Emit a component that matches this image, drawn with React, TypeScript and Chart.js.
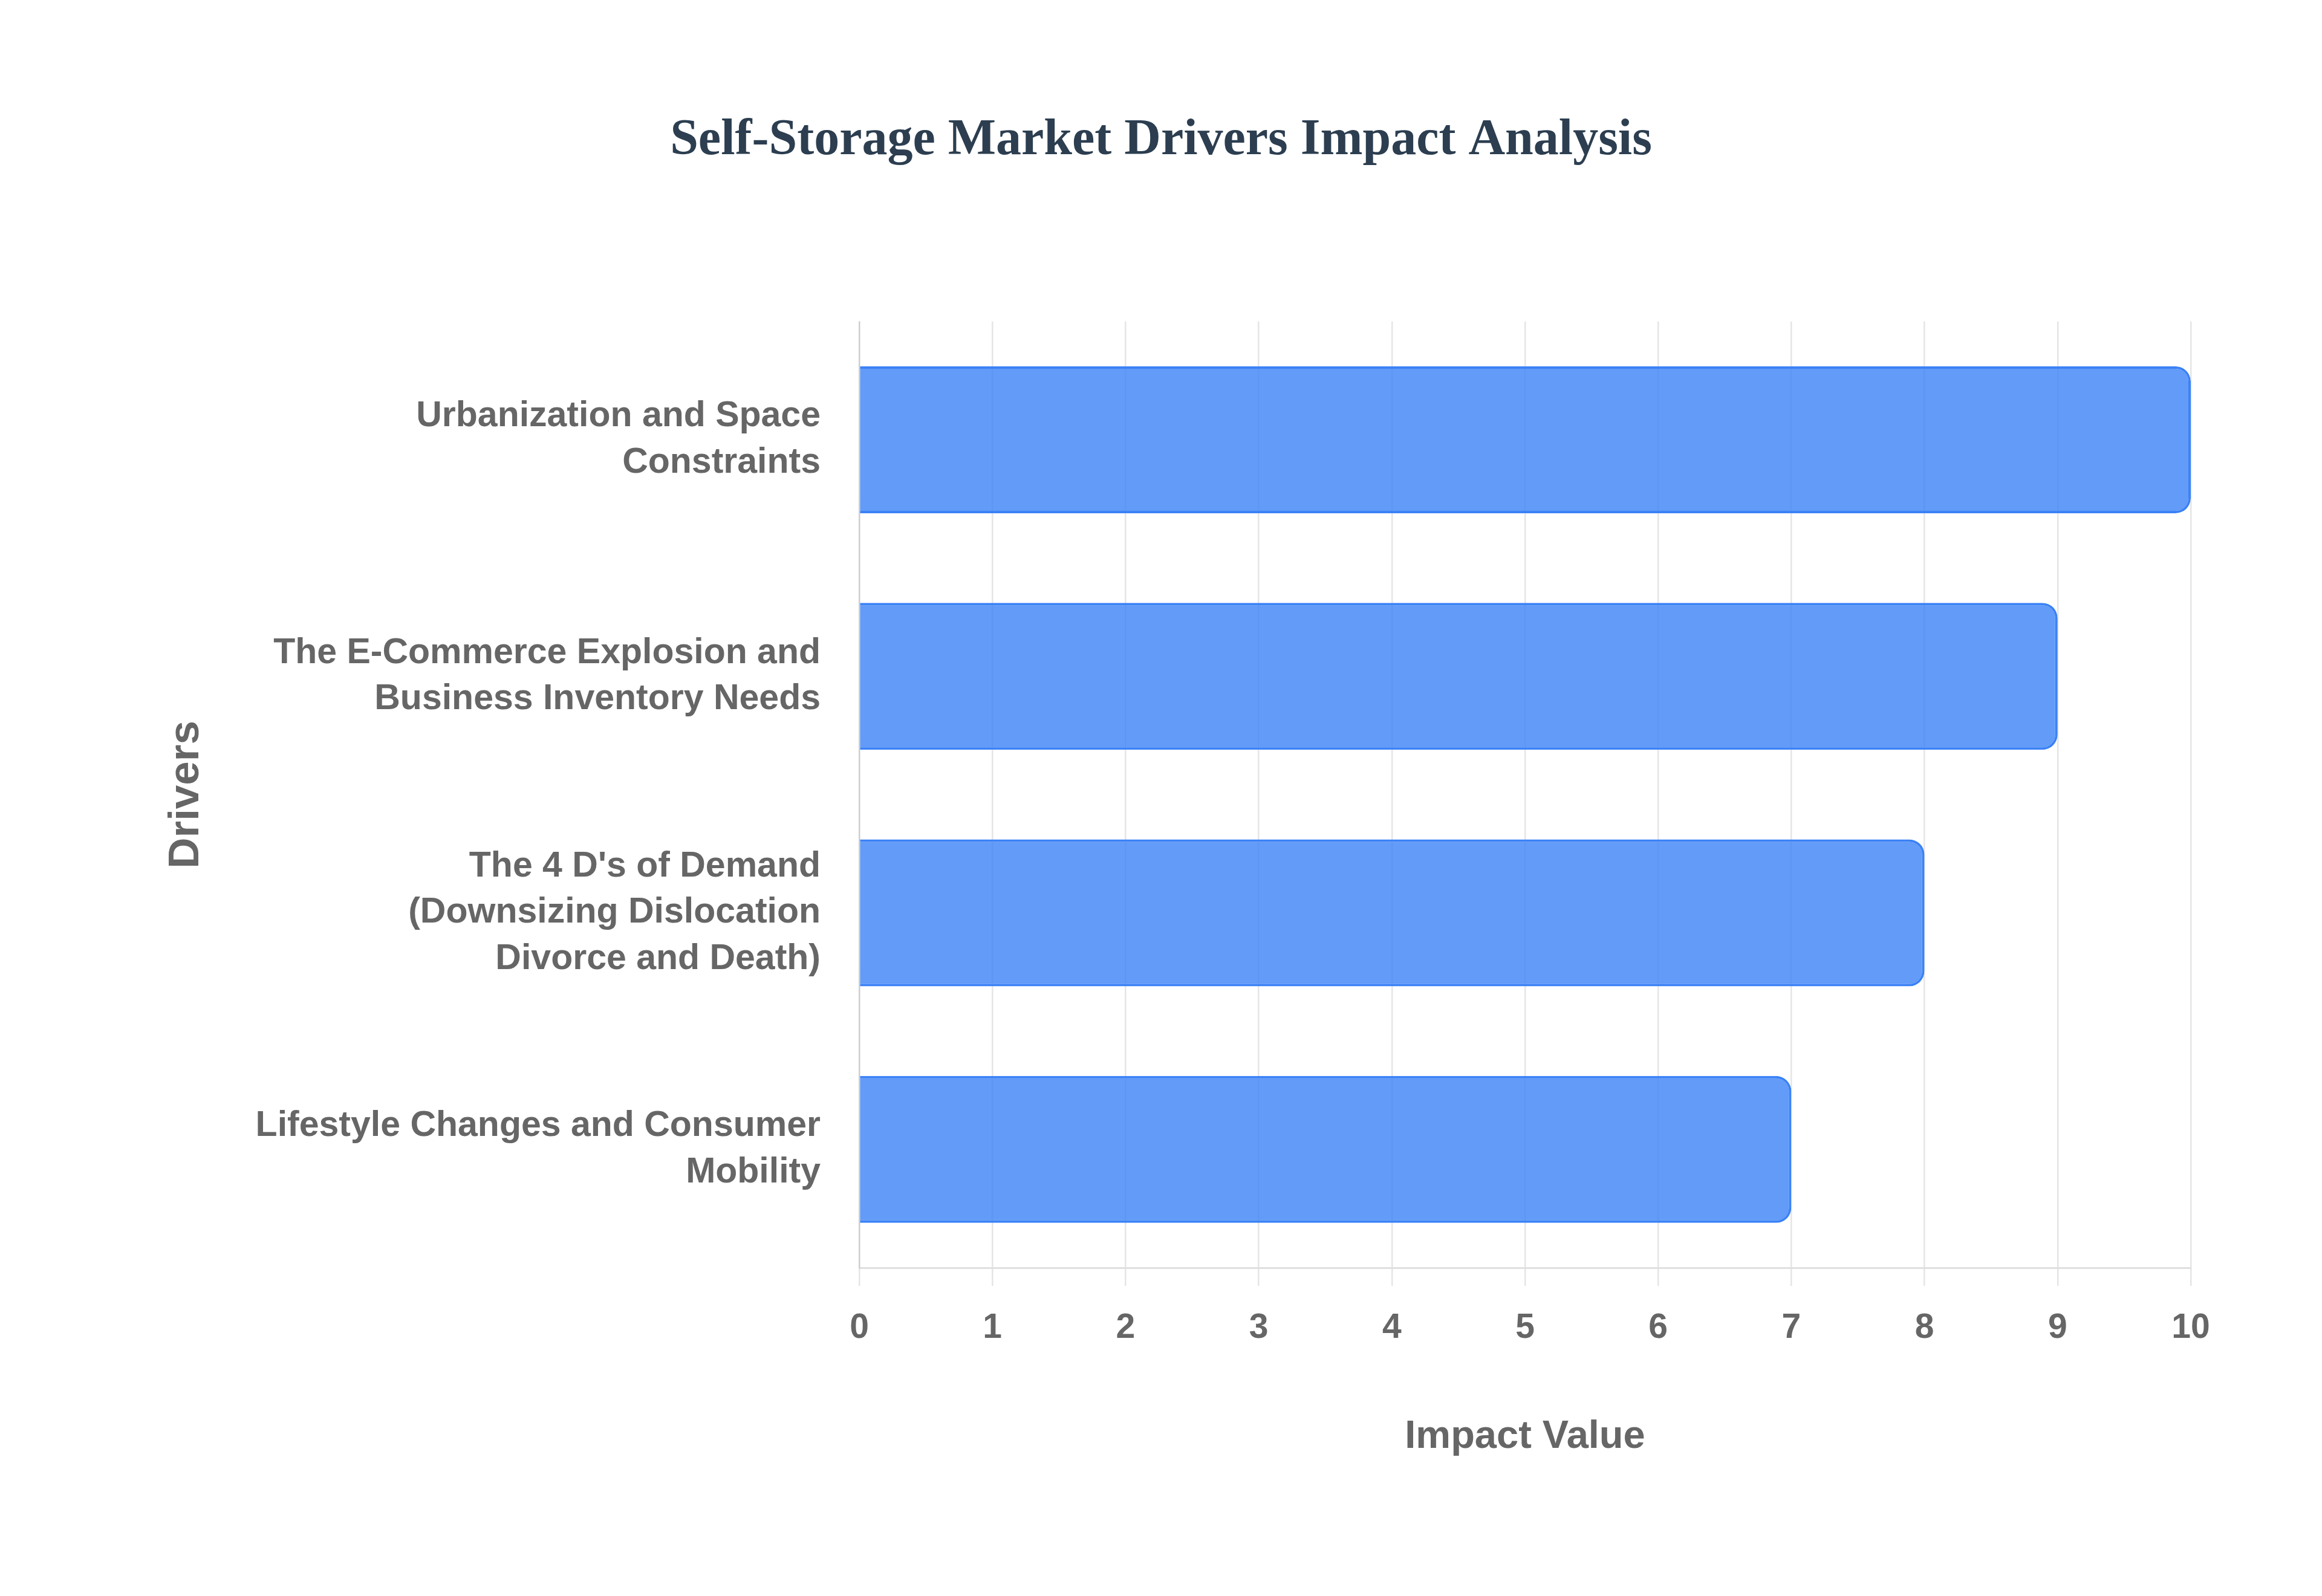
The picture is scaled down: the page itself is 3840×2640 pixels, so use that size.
import { useEffect, useRef } from 'react';
import Chart from 'chart.js/auto';

const drivers = [
  ['Urbanization and Space', 'Constraints'],
  ['The E-Commerce Explosion and', 'Business Inventory Needs'],
  ["The 4 D's of Demand", '(Downsizing Dislocation', 'Divorce and Death)'],
  ['Lifestyle Changes and Consumer', 'Mobility'],
];
const impactValues = [10, 9, 8, 7];
const xMin = 0;
const xMax = 10;
const xStep = 1;

const sans = "'Liberation Sans', Arial, Helvetica, sans-serif";

export default function App() {
  const chartRef = useRef<HTMLCanvasElement | null>(null);
  const chartInstance = useRef<Chart | null>(null);

  useEffect(() => {
    if (!chartRef.current) return;
    if (chartInstance.current) chartInstance.current.destroy();

    chartInstance.current = new Chart(chartRef.current, {
      type: 'bar',
      data: {
        labels: drivers,
        datasets: [{
          label: 'Impact Value',
          data: impactValues,
          backgroundColor: 'rgba(59, 130, 246, 0.8)',
          borderColor: '#3B82F6',
          borderWidth: 4,
          borderRadius: 25,
          categoryPercentage: 0.9,
          barPercentage: 0.69,
        }],
      },
      options: {
        indexAxis: 'y',
        animation: false,
        responsive: true,
        maintainAspectRatio: false,
        layout: { padding: { left: 217, right: 217, top: 0, bottom: 0 } },
        plugins: {
          legend: { display: false },
          tooltip: { enabled: false },
          title: {
            display: true,
            text: 'Self-Storage Market Drivers Impact Analysis',
            color: '#2c3e50',
            font: { family: "'Liberation Serif', 'Times New Roman', serif", size: 84, weight: 'bold', lineHeight: 1.2 },
            padding: { top: 183, bottom: 248 },
          },
        },
        scales: {
          x: {
            min: xMin,
            max: xMax,
            ticks: {
              stepSize: xStep,
              color: '#666',
              padding: 36,
              font: { family: sans, size: 57, weight: 'bold', lineHeight: 1.2 },
            },
            grid: { color: 'rgba(0,0,0,0.1)', lineWidth: 2.5, tickLength: 30 },
            border: { color: 'rgba(0,0,0,0.12)', width: 3 },
            title: {
              display: true,
              text: 'Impact Value',
              color: '#666',
              font: { family: sans, size: 65, weight: 'bold', lineHeight: 1.2 },
              padding: { top: 0, bottom: 224 },
            },
            afterFit: (s: any) => { s.height = 543; },
          },
          y: {
            ticks: {
              color: '#666',
              padding: 56,
              font: { family: sans, size: 59, weight: 'bold', lineHeight: 1.3 },
            },
            grid: { display: false },
            border: { color: 'rgba(0,0,0,0.1)', width: 2.5 },
            title: {
              display: true,
              text: 'Drivers',
              color: '#666',
              font: { family: sans, size: 71, weight: 'bold', lineHeight: 1.2 },
              padding: { top: 49, bottom: 0 },
            },
            afterFit: (s: any) => { s.width = 1204; },
          },
        },
      },
    });

    return () => {
      if (chartInstance.current) {
        chartInstance.current.destroy();
        chartInstance.current = null;
      }
    };
  }, []);

  return (
    <div style={{ position: 'absolute', left: 0, top: 0, width: 3840, height: 2640, background: '#fff' }}>
      <canvas ref={chartRef}></canvas>
    </div>
  );
}
